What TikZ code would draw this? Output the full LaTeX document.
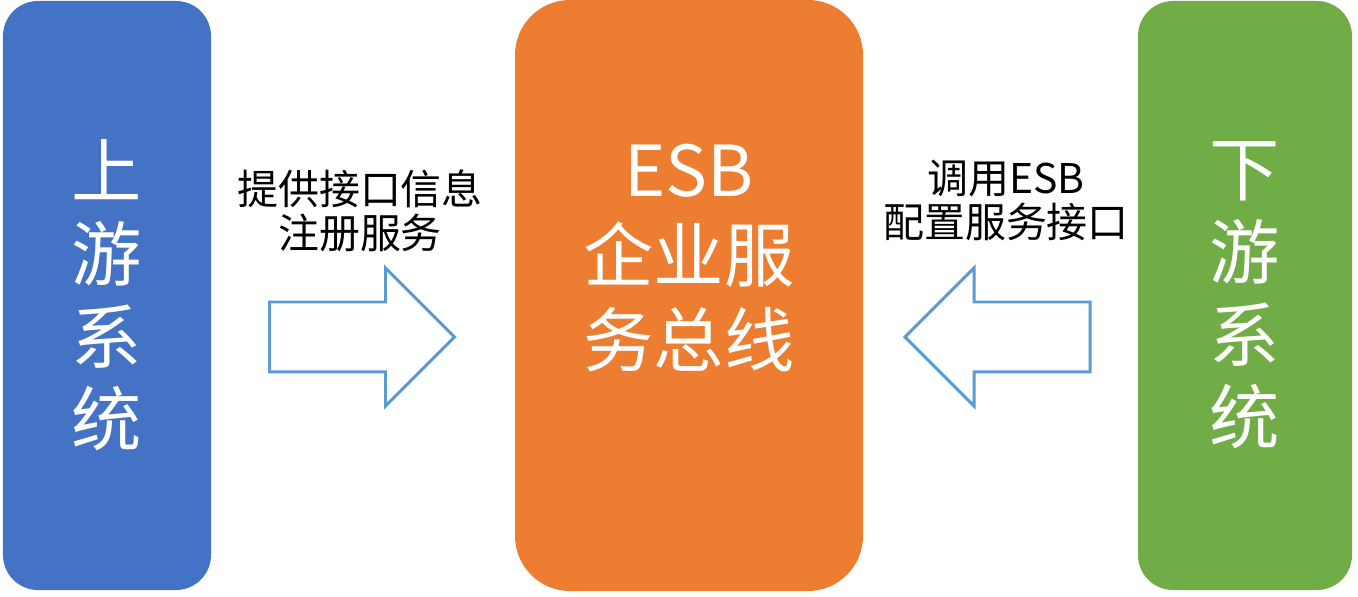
\documentclass[tikz,border=0pt]{standalone}
\usepackage{fontspec}
\setmainfont{Noto Sans CJK SC}
\usetikzlibrary{shapes.arrows}
\definecolor{upblue}{HTML}{4472C4}
\definecolor{esborange}{HTML}{ED7D31}
\definecolor{downgreen}{HTML}{70AD47}
\definecolor{arrowblue}{HTML}{5B9BD5}
\tikzset{
  sysbox/.style={shape=rectangle,rounded corners=0.7cm,inner sep=0pt,text=white,align=center,font=\fontsize{40}{47}\selectfont},
  flow/.style={shape=single arrow,draw=arrowblue,line width=1.7pt,fill=white,inner xsep=0pt,inner ysep=0.67cm,single arrow head extend=0.68cm,minimum height=3.7cm},
  note/.style={align=center,font=\fontsize{23.3}{25}\selectfont}
}
\begin{document}
\begin{tikzpicture}
\path[fill=white,use as bounding box] (0,0) rectangle (27.16,11.92);
\node(up) at (2.14,6.01)[sysbox,fill=upblue,minimum width=4.16cm,minimum height=11.78cm]     {上\\游\\系\\统};
\node(esb) at (13.78,6.01)[sysbox,fill=esborange,rounded corners=1.1cm,minimum width=6.96cm,minimum height=11.82cm] {};
\node(down) at (24.90,6.01)[sysbox,fill=downgreen,minimum width=4.28cm,minimum height=11.78cm] {下\\游\\系\\统};
\node(esbtext) at ([yshift=0.75cm]esb.center)[text=white,align=center,font=\fontsize{40}{48.4}\selectfont] {ESB\\企业服\\务总线};

\node(reg) at (7.2,7.70)[note]    {提供接口信息\\注册服务};
\node(call) at (20.12,7.92)[note] {调用ESB\\配置服务接口};

\node(push) at (6.89,5.18)[flow] {};
\node(pull) at (20.30,5.18)[flow,shape border rotate=180] {};

\end{tikzpicture}
\end{document}
